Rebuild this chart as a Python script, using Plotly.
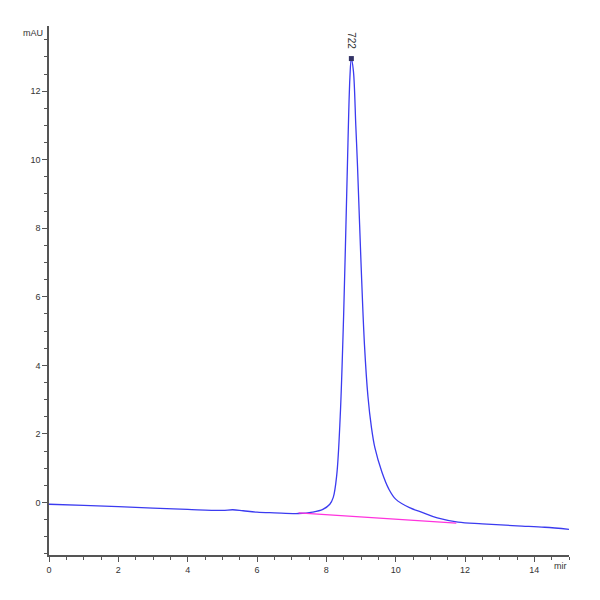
import plotly.graph_objects as go

# chromatogram trace (min, mAU)
time_min = [0, 1, 2, 3, 4, 5, 5.3, 5.6, 6, 6.5, 7.2, 7.6, 7.9, 8.1, 8.2, 8.3, 8.4, 8.5, 8.6, 8.68, 8.72,
            8.78, 8.85, 8.9, 9.0, 9.1, 9.2, 9.3, 9.4, 9.6, 9.8, 10.0, 10.4, 10.8, 11.2, 11.8, 12.5,
            13.5, 14.3, 15]
signal_mau = [-0.05, -0.08, -0.12, -0.16, -0.2, -0.23, -0.21, -0.24, -0.28, -0.3, -0.32, -0.28,
              -0.2, -0.05, 0.15, 0.8, 2.5, 5.5, 9.5, 12.4, 12.95, 12.6, 11.0, 9.8, 7.0, 4.6, 3.1,
              2.2, 1.6, 0.9, 0.4, 0.1, -0.15, -0.3, -0.45, -0.57, -0.62, -0.68, -0.72, -0.78]
baseline_t = [7.2, 11.75]
baseline_y = [-0.3, -0.6]
peak_t, peak_y, peak_label = 8.722, 12.95, "722"

fig = go.Figure()
fig.add_trace(go.Scatter(x=time_min, y=signal_mau, mode="lines",
                         line=dict(color="#3b3bf0", width=1.3, shape="spline")))
fig.add_trace(go.Scatter(x=baseline_t, y=baseline_y, mode="lines",
                         line=dict(color="#ff33dd", width=1.3)))
fig.add_trace(go.Scatter(x=[peak_t], y=[peak_y], mode="markers",
                         marker=dict(color="#333366", size=5, symbol="square")))
fig.add_annotation(x=peak_t, y=peak_y, text=peak_label, textangle=90, showarrow=False,
                   yshift=18, font=dict(size=10, color="#333"))
fig.add_annotation(x=0, y=1, xref="paper", yref="paper", text="mAU", showarrow=False,
                   xanchor="right", yanchor="top", xshift=-4, font=dict(size=9, color="#333"))
fig.add_annotation(x=1, y=0, xref="paper", yref="paper", text="mir", showarrow=False,
                   xanchor="right", yanchor="top", yshift=-4, font=dict(size=9, color="#333"))

axis = dict(showgrid=False, zeroline=False, showline=True, linecolor="#555", linewidth=1.5,
            ticks="outside", ticklen=5, tickcolor="#555", tickfont=dict(size=9, color="#333"))
fig.update_xaxes(range=[0, 15], tickvals=[0, 2, 4, 6, 8, 10, 12, 14],
                 minor=dict(dtick=0.5, ticks="outside", ticklen=3, tickcolor="#555"), **axis)
fig.update_yaxes(range=[-1.53, 13.9], tickvals=[0, 2, 4, 6, 8, 10, 12],
                 minor=dict(dtick=0.5, ticks="outside", ticklen=3, tickcolor="#555"), **axis)
fig.update_layout(width=600, height=600, showlegend=False, plot_bgcolor="white",
                  paper_bgcolor="white", margin=dict(l=41, r=39, t=18, b=53),
                  font=dict(family="Liberation Sans"))
fig.write_html("out.html")
